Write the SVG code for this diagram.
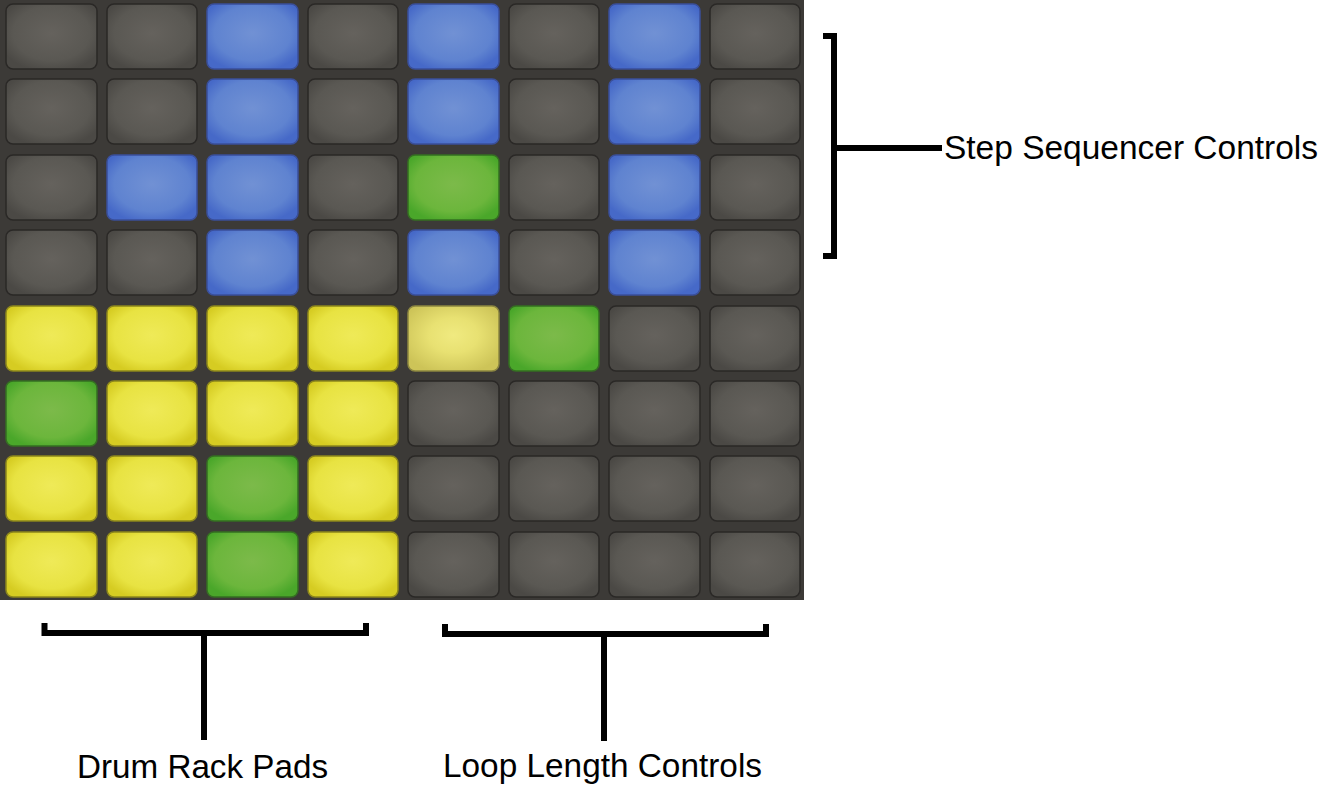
<svg xmlns="http://www.w3.org/2000/svg" width="1327" height="791" viewBox="0 0 1327 791">
<defs>
<radialGradient id="gGray" cx="0.5" cy="0.45" r="0.6"><stop offset="0" stop-color="#65625d"/><stop offset="0.7" stop-color="#5a5853"/><stop offset="1" stop-color="#4b4945"/></radialGradient>
<radialGradient id="gBlue" cx="0.5" cy="0.45" r="0.6"><stop offset="0" stop-color="#7191d4"/><stop offset="0.7" stop-color="#5f83d0"/><stop offset="1" stop-color="#4669c8"/></radialGradient>
<radialGradient id="gYel" cx="0.5" cy="0.45" r="0.6"><stop offset="0" stop-color="#efea58"/><stop offset="0.7" stop-color="#e8e342"/><stop offset="1" stop-color="#d6cc22"/></radialGradient>
<radialGradient id="gGrn" cx="0.5" cy="0.45" r="0.6"><stop offset="0" stop-color="#7cba4a"/><stop offset="0.7" stop-color="#6cb63c"/><stop offset="1" stop-color="#4aa72a"/></radialGradient>
<radialGradient id="gPale" cx="0.5" cy="0.45" r="0.6"><stop offset="0" stop-color="#f0ea80"/><stop offset="0.45" stop-color="#e8e172"/><stop offset="1" stop-color="#cdc458"/></radialGradient>
</defs>
<style>
.p{stroke:#2a2826;stroke-width:1.5}
.g{fill:url(#gGray)}
.b{fill:url(#gBlue);stroke:#3a4f9a}
.y{fill:url(#gYel);stroke:#8c861c}
.n{fill:url(#gGrn);stroke:#356f22}
.l{fill:url(#gPale);stroke:#8c8640}
.c{stroke:#000;stroke-width:6;fill:none;stroke-linecap:butt}
.t{font-family:"Liberation Sans","DejaVu Sans",sans-serif;font-size:33px;fill:#000}
</style>
<rect x="0" y="0" width="804" height="600" fill="#3c3a37"/>
<g id="grid">
<g id="row0">
<rect class="p g" x="6" y="4" width="91" height="65" rx="7"/>
<rect class="p g" x="107" y="4" width="90" height="65" rx="7"/>
<rect class="p b" x="207" y="4" width="91" height="65" rx="7"/>
<rect class="p g" x="308" y="4" width="90" height="65" rx="7"/>
<rect class="p b" x="408" y="4" width="91" height="65" rx="7"/>
<rect class="p g" x="509" y="4" width="90" height="65" rx="7"/>
<rect class="p b" x="609" y="4" width="91" height="65" rx="7"/>
<rect class="p g" x="710" y="4" width="90" height="65" rx="7"/>
</g>
<g id="row1">
<rect class="p g" x="6" y="79" width="91" height="65" rx="7"/>
<rect class="p g" x="107" y="79" width="90" height="65" rx="7"/>
<rect class="p b" x="207" y="79" width="91" height="65" rx="7"/>
<rect class="p g" x="308" y="79" width="90" height="65" rx="7"/>
<rect class="p b" x="408" y="79" width="91" height="65" rx="7"/>
<rect class="p g" x="509" y="79" width="90" height="65" rx="7"/>
<rect class="p b" x="609" y="79" width="91" height="65" rx="7"/>
<rect class="p g" x="710" y="79" width="90" height="65" rx="7"/>
</g>
<g id="row2">
<rect class="p g" x="6" y="155" width="91" height="65" rx="7"/>
<rect class="p b" x="107" y="155" width="90" height="65" rx="7"/>
<rect class="p b" x="207" y="155" width="91" height="65" rx="7"/>
<rect class="p g" x="308" y="155" width="90" height="65" rx="7"/>
<rect class="p n" x="408" y="155" width="91" height="65" rx="7"/>
<rect class="p g" x="509" y="155" width="90" height="65" rx="7"/>
<rect class="p b" x="609" y="155" width="91" height="65" rx="7"/>
<rect class="p g" x="710" y="155" width="90" height="65" rx="7"/>
</g>
<g id="row3">
<rect class="p g" x="6" y="230" width="91" height="65" rx="7"/>
<rect class="p g" x="107" y="230" width="90" height="65" rx="7"/>
<rect class="p b" x="207" y="230" width="91" height="65" rx="7"/>
<rect class="p g" x="308" y="230" width="90" height="65" rx="7"/>
<rect class="p b" x="408" y="230" width="91" height="65" rx="7"/>
<rect class="p g" x="509" y="230" width="90" height="65" rx="7"/>
<rect class="p b" x="609" y="230" width="91" height="65" rx="7"/>
<rect class="p g" x="710" y="230" width="90" height="65" rx="7"/>
</g>
<g id="row4">
<rect class="p y" x="6" y="306" width="91" height="65" rx="7"/>
<rect class="p y" x="107" y="306" width="90" height="65" rx="7"/>
<rect class="p y" x="207" y="306" width="91" height="65" rx="7"/>
<rect class="p y" x="308" y="306" width="90" height="65" rx="7"/>
<rect class="p l" x="408" y="306" width="91" height="65" rx="7"/>
<rect class="p n" x="509" y="306" width="90" height="65" rx="7"/>
<rect class="p g" x="609" y="306" width="91" height="65" rx="7"/>
<rect class="p g" x="710" y="306" width="90" height="65" rx="7"/>
</g>
<g id="row5">
<rect class="p n" x="6" y="381" width="91" height="65" rx="7"/>
<rect class="p y" x="107" y="381" width="90" height="65" rx="7"/>
<rect class="p y" x="207" y="381" width="91" height="65" rx="7"/>
<rect class="p y" x="308" y="381" width="90" height="65" rx="7"/>
<rect class="p g" x="408" y="381" width="91" height="65" rx="7"/>
<rect class="p g" x="509" y="381" width="90" height="65" rx="7"/>
<rect class="p g" x="609" y="381" width="91" height="65" rx="7"/>
<rect class="p g" x="710" y="381" width="90" height="65" rx="7"/>
</g>
<g id="row6">
<rect class="p y" x="6" y="456" width="91" height="65" rx="7"/>
<rect class="p y" x="107" y="456" width="90" height="65" rx="7"/>
<rect class="p n" x="207" y="456" width="91" height="65" rx="7"/>
<rect class="p y" x="308" y="456" width="90" height="65" rx="7"/>
<rect class="p g" x="408" y="456" width="91" height="65" rx="7"/>
<rect class="p g" x="509" y="456" width="90" height="65" rx="7"/>
<rect class="p g" x="609" y="456" width="91" height="65" rx="7"/>
<rect class="p g" x="710" y="456" width="90" height="65" rx="7"/>
</g>
<g id="row7">
<rect class="p y" x="6" y="532" width="91" height="65" rx="7"/>
<rect class="p y" x="107" y="532" width="90" height="65" rx="7"/>
<rect class="p n" x="207" y="532" width="91" height="65" rx="7"/>
<rect class="p y" x="308" y="532" width="90" height="65" rx="7"/>
<rect class="p g" x="408" y="532" width="91" height="65" rx="7"/>
<rect class="p g" x="509" y="532" width="90" height="65" rx="7"/>
<rect class="p g" x="609" y="532" width="91" height="65" rx="7"/>
<rect class="p g" x="710" y="532" width="90" height="65" rx="7"/>
</g>
</g>
<g id="connectors">
<path class="c" d="M823,36 H834 V256 H823 M834,148 H942"/>
<path class="c" d="M44.5,623 V633 H366 V623 M204,633 V740"/>
<path class="c" d="M445,624 V634 H766 V624 M604,634 V741"/>
</g>
<g id="label-step"><text class="t" x="944" y="159" textLength="374" lengthAdjust="spacingAndGlyphs">Step Sequencer Controls</text></g>
<g id="label-drum"><text class="t" x="77" y="778" textLength="251" lengthAdjust="spacingAndGlyphs">Drum Rack Pads</text></g>
<g id="label-loop"><text class="t" x="443" y="777" textLength="319" lengthAdjust="spacingAndGlyphs">Loop Length Controls</text></g>
</svg>
